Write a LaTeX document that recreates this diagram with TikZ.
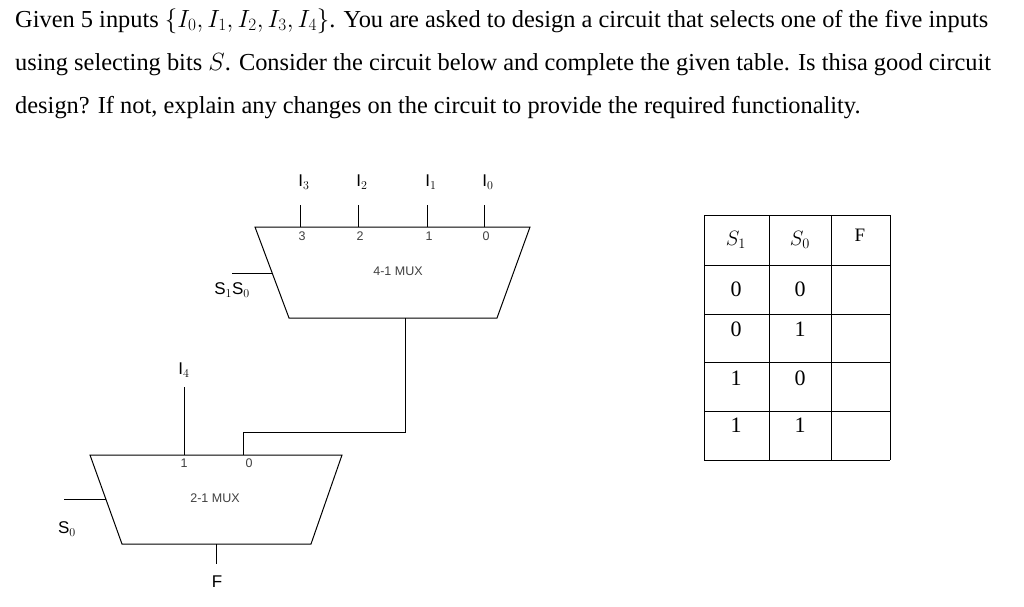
\documentclass[tikz,border=0pt]{standalone}
\usepackage{fontspec}
\setmainfont{Liberation Serif}
\newfontfamily\lsans{Liberation Sans}
\begin{document}
\begin{tikzpicture}[x=1pt,y=-1pt,
  hdr/.style={anchor=base west,inner sep=0,font=\fontsize{24.4}{28}\selectfont},
  lbl/.style={inner sep=0,font=\lsans\fontsize{17}{19}\selectfont},
  pin/.style={inner sep=0,font=\lsans\fontsize{12.5}{14}\selectfont,text=black!75},
  tbl/.style={inner sep=0,font=\fontsize{22}{26}\selectfont},
  wire/.style={line width=1pt}]
\useasboundingbox (0,0) rectangle (1024,606);
\node[hdr] (l1) at (15,27) {Given 5 inputs $\{I_0,I_1,I_2,I_3,I_4\}$. You are asked to design a circuit that selects one of the five inputs};
\node[hdr] (l2) at (15,70) {using selecting bits $S$. Consider the circuit below and complete the given table. Is thisa good circuit};
\node[hdr] (l3) at (15,113) {design? If not, explain any changes on the circuit to provide the required functionality.};
% 4-1 mux
\draw[wire] (255,227) -- (530,227) -- (497,318) -- (289,318) -- cycle;
\node[pin] (m4) at (398,271) {4-1 MUX};
\foreach \x/\n/\lab in {300/3/I$_3$,358/2/I$_2$,427/1/I$_1$,484/0/I$_0$}{
  \coordinate (in\n) at (\x,227);
  \coordinate (tp\n) at (\x,205);
  \draw[wire] (tp\n) -- (in\n);
  \node[pin] (pn\n) at (\x+2,236) {\n};
  \node[lbl] (il\n) at (\x+4,182) {\lab};
}
\coordinate (sA) at (232,273); \coordinate (sB) at (272,273);
\draw[wire] (sA) -- (sB);
\node[lbl] (s10) at (232,290) {S$_1$S$_0$};
% 2-1 mux
\draw[wire] (90,455) -- (342,455) -- (311,544) -- (122,544) -- cycle;
\node[pin] (m2) at (215,498) {2-1 MUX};
\coordinate (o4) at (405,318); \coordinate (j0) at (243,455);
\draw[wire] (o4) -- (405,432) -| (j0);
\coordinate (i4t) at (184,387); \coordinate (i4b) at (184,455);
\draw[wire] (i4t) -- (i4b);
\node[lbl] (il4) at (184,370) {I$_4$};
\node[pin] (p1) at (184,463) {1};
\node[pin] (p0) at (249,463) {0};
\coordinate (sC) at (64,499); \coordinate (sD) at (106,499);
\draw[wire] (sC) -- (sD);
\node[lbl] (s0) at (67,529) {S$_0$};
\coordinate (fA) at (216,544); \coordinate (fB) at (216,564);
\draw[wire] (fA) -- (fB);
\node[lbl] (F) at (217,582) {F};
% table
\foreach \x in {704,769,831,890} \draw (\x,215) -- (\x,460);
\foreach \y in {215,265,314,362,411,460} \draw (704,\y) -- (890,\y);
\node[tbl] (h1) at (736,240) {$S_1$};
\node[tbl] (h2) at (800,240) {$S_0$};
\node[tbl,font=\fontsize{19}{22}\selectfont] (h3) at (860,235) {F};
\foreach \a/\b/\y in {0/0/289,0/1/329,1/0/378,1/1/425}{
  \node[tbl] at (736,\y) {\a};
  \node[tbl] at (800,\y) {\b};
}
\end{tikzpicture}
\end{document}
